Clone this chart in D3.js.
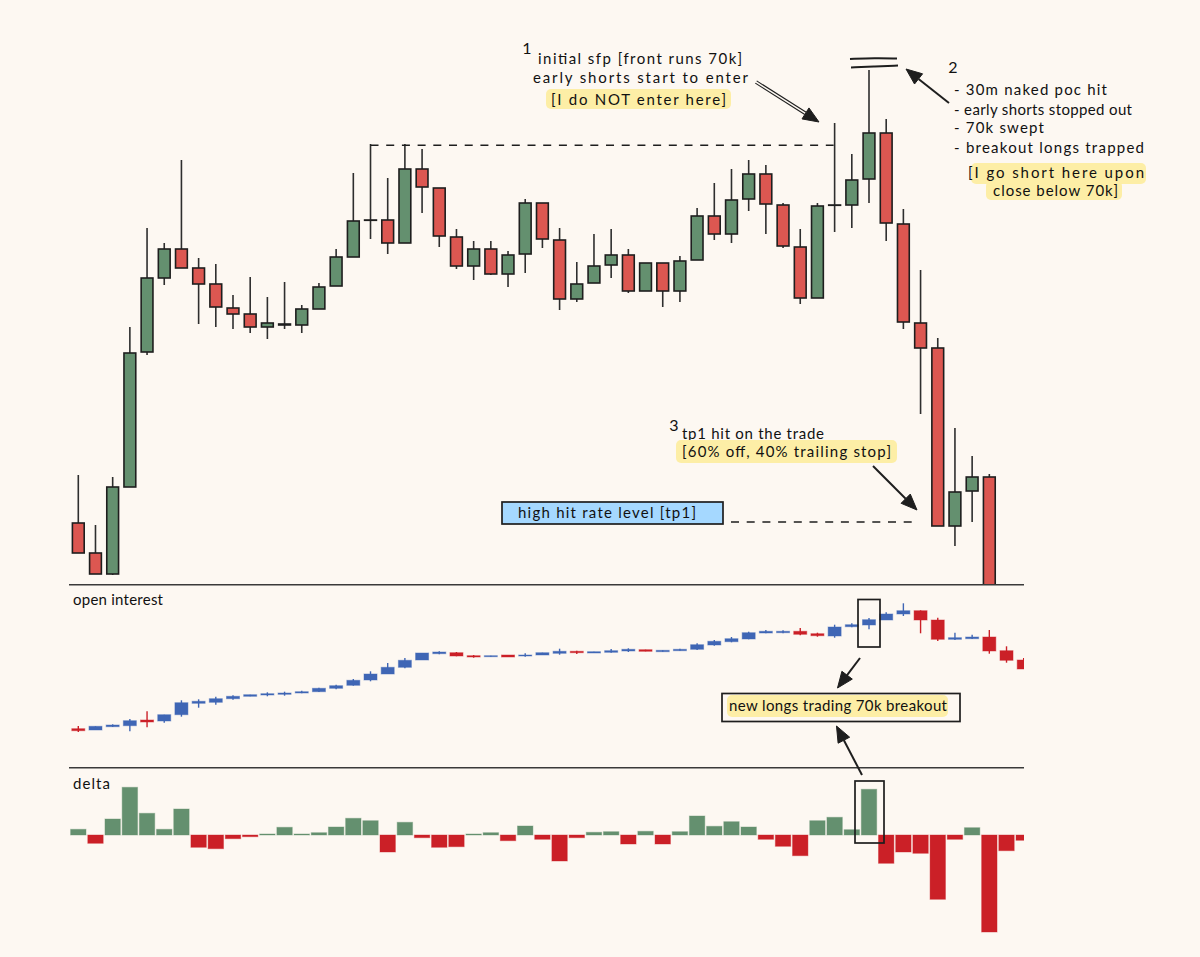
<!DOCTYPE html>
<html>
<head>
<meta charset="utf-8">
<script src="https://cdn.jsdelivr.net/npm/d3@7"></script>
<style>
  html, body { margin: 0; padding: 0; background: #fdf8f2; }
  svg { display: block; }
  text { font-family: "Lato", "Noto Sans", sans-serif; fill: #111; }
</style>
</head>
<body>
<div id="chart"></div>
<script>
// Price candles
const opens = [66220,65920,65710,66580,67930,68670,68960,68770,68610,68370,68310,68180,68200,68200,68360,68590,68880,69250,69250,69020,69760,69570,69080,68790,68960,68710,68910,69420,69050,68460,68620,68800,68900,68540,68820,68540,68850,69290,69110,69460,69710,69400,68980,68470,69400,69400,69660,70120,69210,68220,67970,66190,66540,66680];
const highs = [66700,66200,66680,68180,69170,69020,69850,68870,68810,68500,68680,68480,68630,68400,68620,68960,69720,70010,69670,70010,69960,69570,69160,69040,69040,68940,69460,69420,69170,68830,69110,69160,68960,68820,68820,68890,69370,69620,69760,69850,69800,69420,69160,69420,70220,69910,70750,70260,69360,68750,68070,67170,66890,66710];
const lows = [65920,65710,65700,66580,67900,68600,68770,68210,68180,68160,68120,68060,68160,68120,68360,68590,68880,69060,68910,69020,69320,68980,68760,68650,68700,68580,68720,68970,68350,68430,68620,68670,68520,68540,68380,68430,68850,69050,69020,69340,69110,68970,68410,68470,69130,69170,69420,69040,68160,67310,66190,65990,66230,65300];
const closes = [65920,65710,66580,67920,68670,68960,68770,68610,68380,68310,68180,68220,68210,68360,68580,68880,69240,69250,69020,69760,69580,69090,68790,68960,68710,68900,69420,69060,68460,68610,68790,68900,68540,68820,68540,68840,69290,69110,69450,69710,69410,68990,68470,69390,69400,69650,70120,69220,68230,67970,66190,66530,66680,65300];

// Open interest candles
const oiOpens = [36.3,35,38.3,39.3,45,44,50.3,61.7,62.7,66.3,68.7,70,70.7,72,73.3,76.7,79.7,85,91,97.7,105,111.3,112.3,109.3,108.3,110,109,110,111.7,113.7,112,112.7,114,115.3,113.3,114.3,115.7,120,123.3,126,132,132.3,133.7,131.3,129,138.3,140,145,151,154.3,145,125.7,126.3,128,114.3,105];
const oiHighs = [39,38.7,40.7,46,53.7,50.3,64.7,65.7,68.3,69.7,70.3,72.7,73.3,74.3,77.3,80.3,86,93.7,102,107,112,113.7,113,110,109.3,110,111.7,112.3,116.3,114.3,113.3,116,116.7,115.3,114.7,116.3,121.7,125,128,133.3,135,134.7,137,132.3,140.3,141.7,147,152.7,161.7,154.7,147.3,132.3,130.3,135,118.7,107];
const oiLows = [33,35,38,33.7,37.7,42.3,48.3,57.3,60.3,65.3,68.7,68.7,69.3,71.7,73,75.7,79.3,83.7,91,96.7,105,110.7,108.7,107.3,108.3,108,108.3,110,110.3,111,112,112.3,113,113.7,113.3,114.3,115,119.3,122.7,125.7,131.7,131.7,129.7,128.3,127.3,137.7,135.7,145,149,131.7,124,125,126,111.3,102.3,96];
const oiCloses = [34.3,38.7,40,44.3,43,50.3,62.3,63.7,66.3,68.7,70.3,71.3,72,73.3,76.7,79.3,84.7,91,97.7,104.7,112,113,109,108,109.3,108,110,112.3,113.7,112.3,113.3,114.3,115.7,113.7,114.7,115.7,120.3,123.7,126.3,132.3,133.7,133.7,130.7,129.3,138,140.3,145.3,151,154.3,145,125.7,127.3,128,114,104.7,96];

// Delta bars
const deltas = [5.7,-8.3,16,47.7,21.7,5.7,26,-12.3,-13.7,-3.7,-1.7,1,7.7,1,2.3,8,16.7,14.3,-17,12.7,-2.7,-12.3,-11.7,1,2.3,-5.7,9,-4.3,-26,-2.7,2.7,3.3,-9,3.7,-9,3.3,19,8.7,13.3,8,-4.3,-11.3,-20.7,14.3,17.7,5.3,45.7,-28.3,-17,-18.3,-64.3,-4.3,7.3,-97,-15.7,-5.3];

// Levels and the bar everything points at
const rangeHigh = 70000;
const tp1Level = 66230;
const breakoutBar = 46;

const width = 1200;
const height = 957;
const left = 69;
const right = 1024;
const priceBottom = 585;
const oiBottom = 768;

const ink = "#1e1e1e";
const green = "#64906f";
const red = "#dc5751";
const deltaRed = "#cb2027";
const oiBlue = "#3f66b5";
const marker = "#fdeea6";

const svg = d3.select("#chart").append("svg")
  .attr("width", width)
  .attr("height", height)
  .style("background", "#fdf8f2");

// Scales
const xScale = d3.scaleBand()
  .domain(d3.range(deltas.length))
  .range([69.7, 1032.3]);
const xMid = i => xScale(i) + xScale.bandwidth() / 2;

const priceScale = d3.scaleLinear().domain([65600, 71450]).range([priceBottom, 0]);
const oiScale = d3.scaleLinear().domain([0, 175]).range([765, 590]);
const deltaScale = d3.scaleLinear().domain([-100, 50]).range([935, 785]);

// Clip so the last bars run off the panel like in a screenshot
const defs = svg.append("defs");
defs.append("clipPath").attr("id", "clip-price").append("rect")
  .attr("x", 0).attr("y", 0).attr("width", right).attr("height", priceBottom);
defs.append("clipPath").attr("id", "clip-lower").append("rect")
  .attr("x", 0).attr("y", priceBottom).attr("width", right).attr("height", height - priceBottom);

const drawCandles = (g, o, h, l, c, y, opts) => {
  const n = o.length;
  const idx = d3.range(n);
  g.selectAll(".wick")
    .data(idx)
    .join("line")
      .attr("class", "wick")
      .attr("x1", xMid).attr("x2", xMid)
      .attr("y1", i => y(h[i]))
      .attr("y2", i => y(l[i]))
      .attr("stroke", i => opts.wick(i))
      .attr("stroke-width", opts.wickWidth);
  g.selectAll(".body")
    .data(idx)
    .join("rect")
      .attr("class", "body")
      .attr("x", i => xMid(i) - opts.bodyWidth / 2)
      .attr("width", opts.bodyWidth)
      .attr("y", i => Math.min(y(o[i]), y(c[i])))
      .attr("height", i => Math.max(0.3, Math.abs(y(o[i]) - y(c[i]))))
      .attr("fill", i => opts.fill(i))
      .attr("stroke", i => opts.stroke(i))
      .attr("stroke-opacity", opts.strokeOpacity)
      .attr("stroke-width", opts.strokeWidth);
};

// Price panel
drawCandles(
  svg.append("g").attr("clip-path", "url(#clip-price)"),
  opens, highs, lows, closes, priceScale,
  {
    wick: () => "#2e2e2e", wickWidth: 1.6, bodyWidth: 11.8,
    fill: i => closes[i] >= opens[i] ? green : red,
    stroke: () => ink, strokeOpacity: 1, strokeWidth: 1.6
  }
);

// OI panel
drawCandles(
  svg.append("g").attr("clip-path", "url(#clip-lower)"),
  oiOpens, oiHighs, oiLows, oiCloses, oiScale,
  {
    wick: i => oiCloses[i] >= oiOpens[i] ? oiBlue : deltaRed, wickWidth: 1.4, bodyWidth: 13,
    fill: i => oiCloses[i] >= oiOpens[i] ? oiBlue : deltaRed,
    stroke: i => oiCloses[i] >= oiOpens[i] ? oiBlue : deltaRed, strokeOpacity: 0.45, strokeWidth: 1
  }
);

// Delta panel
svg.append("g").attr("clip-path", "url(#clip-lower)")
  .selectAll("rect")
  .data(deltas)
  .join("rect")
    .attr("x", (d, i) => xMid(i) - 7.7)
    .attr("width", 15.4)
    .attr("y", d => d > 0 ? deltaScale(d) : deltaScale(0))
    .attr("height", d => Math.abs(deltaScale(d) - deltaScale(0)))
    .attr("fill", d => d > 0 ? green : deltaRed)
    .attr("stroke", d => d > 0 ? green : deltaRed)
    .attr("stroke-opacity", 0.4)
    .attr("stroke-width", 1);

// Panel separators
svg.selectAll(".sep")
  .data([priceBottom, oiBottom])
  .join("line")
    .attr("class", "sep")
    .attr("x1", left).attr("x2", right)
    .attr("y1", d => d - 0.3).attr("y2", d => d - 0.3)
    .attr("stroke", "#3a3a3a")
    .attr("stroke-width", 1.5);

// Annotation helpers
const annot = svg.append("g");

const label = (t, x, yMid, w, size = 15) =>
  annot.append("text")
    .attr("x", x)
    .attr("y", yMid + size * 0.3)
    .attr("font-size", size)
    .attr("textLength", w)
    .text(t);

const number = (t, x, yMid, size = 16) =>
  annot.append("text")
    .attr("x", x)
    .attr("y", yMid + size * 0.35)
    .attr("text-anchor", "middle")
    .attr("font-size", size)
    .text(t);

const highlight = (x0, y0, x1, y1) =>
  annot.append("rect")
    .attr("x", x0).attr("y", y0)
    .attr("width", x1 - x0).attr("height", y1 - y0)
    .attr("rx", 5)
    .attr("fill", marker);

const box = (x0, y0, x1, y1, fill = "none") =>
  annot.append("rect")
    .attr("x", x0).attr("y", y0)
    .attr("width", x1 - x0).attr("height", y1 - y0)
    .attr("fill", fill)
    .attr("stroke", ink)
    .attr("stroke-width", 1.7);

const dashed = (x0, x1, y) =>
  annot.append("line")
    .attr("x1", x0).attr("x2", x1)
    .attr("y1", y).attr("y2", y)
    .attr("stroke", ink)
    .attr("stroke-width", 1.5)
    .attr("stroke-dasharray", "8 7.7");

const arrow = (x0, y0, x1, y1, double = false) => {
  const a = Math.atan2(y1 - y0, x1 - x0);
  const headLen = 16;
  const headW = 6.5;
  const bx = x1 - headLen * Math.cos(a);
  const by = y1 - headLen * Math.sin(a);
  const nx = -Math.sin(a);
  const ny = Math.cos(a);
  const offsets = double ? [-1.3, 1.3] : [0];
  offsets.forEach(o => {
    annot.append("line")
      .attr("x1", x0 + nx * o).attr("y1", y0 + ny * o)
      .attr("x2", bx + nx * o).attr("y2", by + ny * o)
      .attr("stroke", ink)
      .attr("stroke-width", double ? 1.1 : 2);
  });
  annot.append("path")
    .attr("d", d3.line()([[x1, y1], [bx + nx * headW, by + ny * headW], [bx - nx * headW, by - ny * headW]]) + "Z")
    .attr("fill", ink)
    .attr("stroke", ink)
    .attr("stroke-linejoin", "round");
};

// 70k level from the first wick to the sfp wick
dashed(xMid(17), xMid(44) - 1, priceScale(rangeHigh) + 0.3);

// Sketchy double line above the high
const sketch = d3.line().curve(d3.curveBasis);
[
  [[850, 59], [875, 58], [897, 58.5]],
  [[851, 67.5], [875, 66.5], [898, 65.5]]
].forEach(p => {
  annot.append("path")
    .attr("d", sketch(p))
    .attr("fill", "none")
    .attr("stroke", ink)
    .attr("stroke-width", 2);
});

// Note 1
number("1", 527, 48);
label("initial sfp [front runs 70k]", 538, 59, 204);
label("early shorts start to enter", 533, 78, 215);
highlight(546, 89, 731, 109);
label("[I do NOT enter here]", 551, 100, 175);
arrow(756, 82, 819, 122, true);

// Note 2
number("2", 953, 67);
arrow(949, 103, 906, 69);
label("- 30m naked poc hit", 954, 90, 153);
label("- early shorts stopped out", 954, 110, 178);
label("- 70k swept", 954, 128, 90);
label("- breakout longs trapped", 954, 148, 190);
highlight(971, 163, 1146, 184);
highlight(986, 181, 1122, 200);
label("[I go short here upon", 968, 173, 176);
label("close below 70k]", 993, 191, 125);

// Note 3
number("3", 674, 425);
label("tp1 hit on the trade", 682, 434, 142);
highlight(676, 440, 897, 463);
label("[60% off, 40% trailing stop]", 682, 452, 209);
arrow(873, 466, 917, 510);

// tp1 level
box(502, 502, 723, 524, "#a5d8ff");
label("high hit rate level [tp1]", 518, 513, 178);
dashed(731, 916, priceScale(tp1Level));

// Breakout boxes on the lower panels
box(xMid(breakoutBar) - 11, 599.5, xMid(breakoutBar) + 11, 647);
box(xMid(breakoutBar) - 14, 781, xMid(breakoutBar) + 15, 843);
box(722, 693.5, 960, 721.5);
highlight(727, 695, 948, 717);
label("new longs trading 70k breakout", 729, 706, 218);
arrow(860, 658, 837.5, 688);
arrow(862, 775, 836.5, 726);

// Panel titles
label("open interest", 73, 600, 90);
label("delta", 73, 784, 37);
</script>
</body>
</html>
